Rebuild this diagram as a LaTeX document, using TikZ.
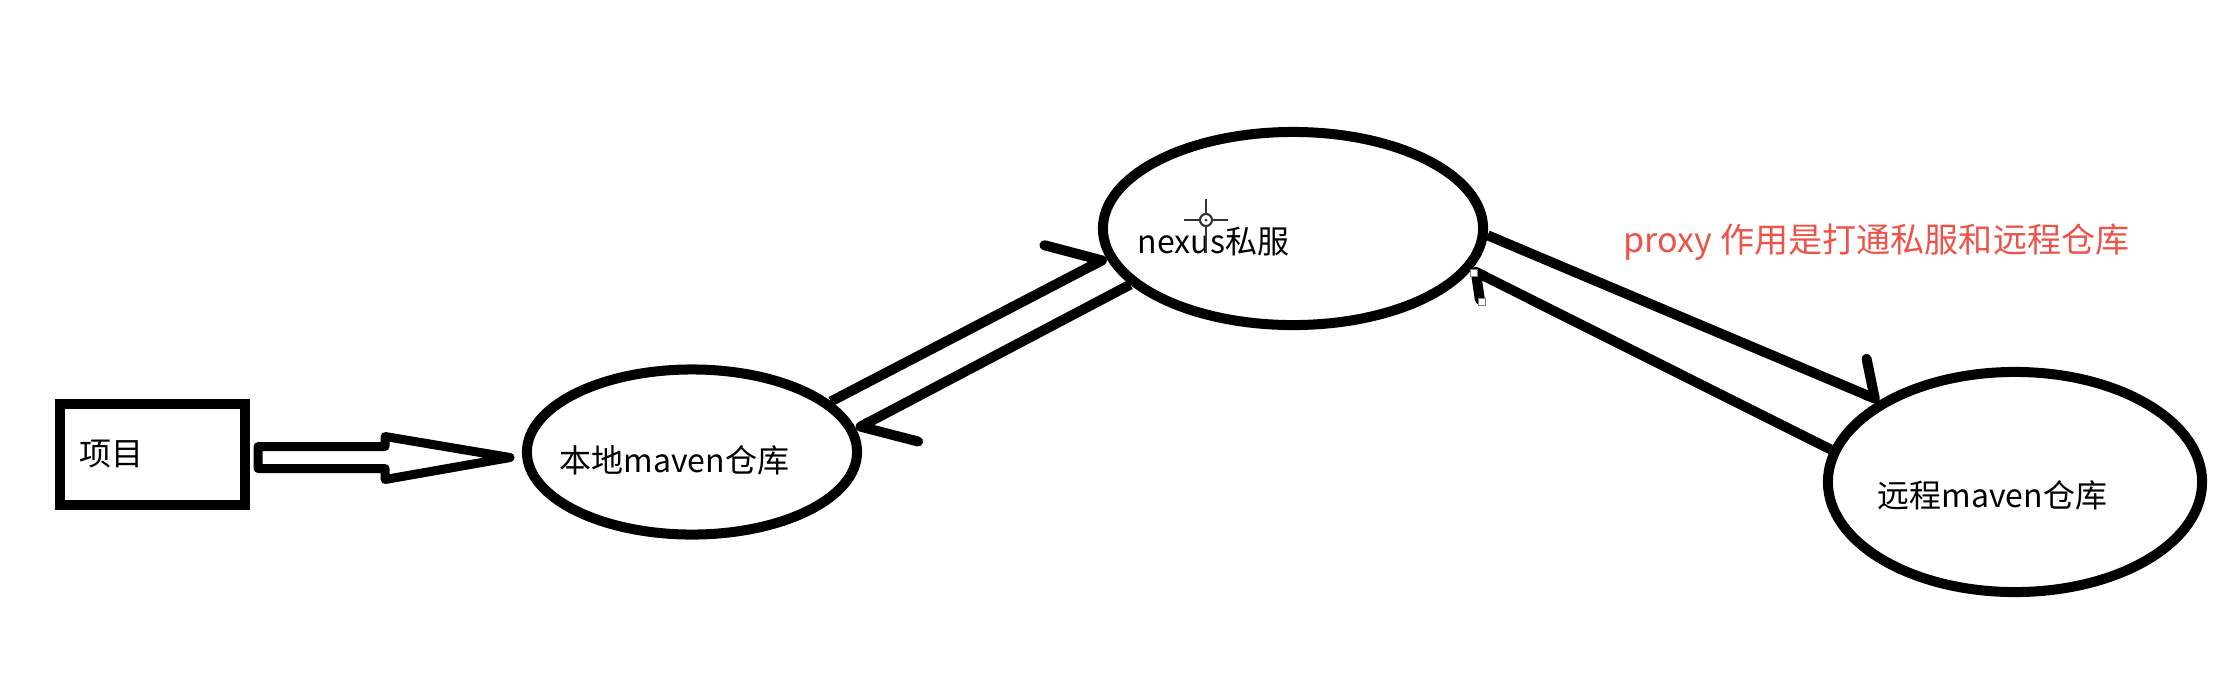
\documentclass[tikz,border=0pt]{standalone}
\usepackage{fontspec}
\setmainfont{Noto Sans CJK SC}
\usetikzlibrary{shapes.geometric,arrows.meta}
\definecolor{proxyred}{RGB}{238,83,73}
\tikzset{
	repo/.style={ellipse,draw,line width=0.1cm,inner sep=0pt},
	projbox/.style={draw,line width=0.1cm,minimum width=1.85cm,minimum height=1.01cm,text width=1.45cm,inner xsep=0.2cm,align=left,font=\fontsize{9.1}{11}\selectfont},
	txt/.style={anchor=west,inner sep=0pt,font=\fontsize{9.1}{11}\selectfont},
	hollow/.style={line width=0.09cm,line join=round},
	pipe/.style={line width=0.1cm,-{Straight Barb[harpoon,round,length=0.44cm,width=0.8cm]}},
	handle/.style={draw=gray,fill=white,line width=0.4pt},
	cursor/.style={draw=black!80,line width=0.6pt}
}
\begin{document}
\begin{tikzpicture}[x=0.01cm,y=-0.01cm]
	\useasboundingbox (0,0) rectangle (2232,690); % whole canvas
		\node[projbox] (item) at (152.5,454.5) {项目};
		\node[repo,minimum width=3.3cm,minimum height=1.65cm] (local) at (692,452) {};
		\node[repo,minimum width=3.8cm,minimum height=1.93cm] (nexus) at (1293,228.5) {};
		\node[repo,minimum width=3.74cm,minimum height=2.2cm] (remote) at (2015,482) {};
		\node[txt] (localtxt) at (559,460) {本地maven仓库};
		\node[txt] (nexustxt) at (1137,242) {nexus私服};
		\node[txt] (remotetxt) at (1877,495) {远程maven仓库};
		\node[txt,text=proxyred,font=\fontsize{9.7}{12}\selectfont] (proxytxt) at (1623,242) {proxy 作用是打通私服和远程仓库};

		\draw[hollow] (item.east) ++(8,-8) -- ++(127,0) -- ++(0,-10) -- ++(125,21) -- ++(-125,22) -- ++(0,-11) -- ++(-127,0) -- cycle;% fat arrow into the local repo

		\draw[pipe] (local.20) -- (nexus.189);% local -> nexus
		\draw[pipe] (nexus.199) -- (local.8);% nexus -> local
		\draw[pipe,-{Straight Barb[harpoon,round,length=0.23cm,width=0.67cm]}] (nexus.358) -- (remote.149);% nexus -> remote
		\draw[pipe,-{Straight Barb[harpoon,round,length=0.16cm,width=0.46cm]}] (remote.170) -- (nexus.347);% remote -> nexus

		\foreach \Point in {(1474,273),(1482,302)}{\draw[handle] \Point ++(-3.5,-3.5) rectangle ++(7,7);}

		\coordinate (Cursor) at (1206,220);
		\draw[cursor] (Cursor) circle[radius=0.06cm];
		\fill[black!80] (Cursor) circle[radius=0.015cm];
		\draw[cursor] (Cursor) ++(-22,0) -- ++(16,0) ++(12,0) -- ++(16,0);
		\draw[cursor] (Cursor) ++(0,-21) -- ++(0,15) ++(0,12) -- ++(0,27);
\end{tikzpicture}
\end{document}
